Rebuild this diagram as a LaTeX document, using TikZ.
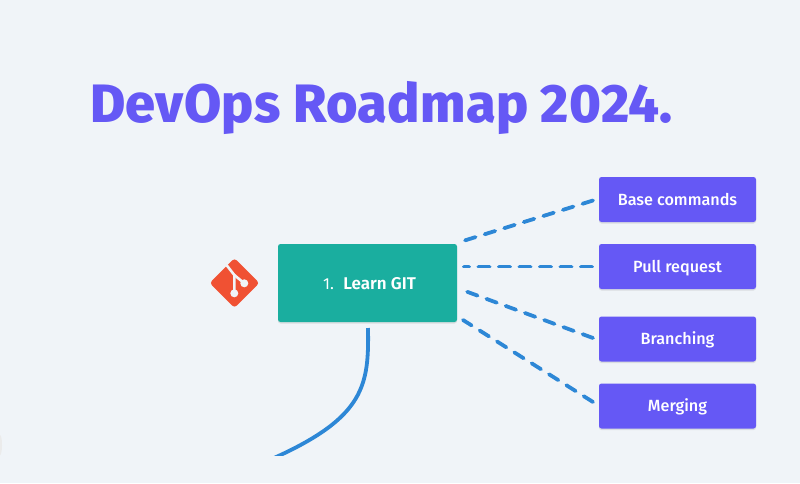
\documentclass[tikz,border=0pt]{standalone}
\usepackage{fontspec}
\setmainfont{Fira Sans}
\newfontfamily\labelfont{Fira Sans Medium}
\newfontfamily\strongfont{Fira Sans SemiBold}
\newfontfamily\titlefont[LetterSpace=0.6]{Fira Sans ExtraBold}
\usetikzlibrary{shadows,positioning}
\definecolor{bgc}{HTML}{F0F4F8}
\definecolor{violet}{HTML}{6558F5}
\definecolor{teal}{HTML}{1AAE9F}
\definecolor{linkblue}{HTML}{2D87D6}
\definecolor{gitred}{HTML}{F05133}
\tikzset{
  softshadow/.style={drop shadow={shadow xshift=0pt,shadow yshift=-1.5pt,opacity=.16,fill=black!60}},
  topicbox/.style={fill=violet,rounded corners=2.5pt,minimum width=157pt,minimum height=45pt,inner sep=0pt,text=white,text height=12pt,text depth=1pt,font=\labelfont\fontsize{16.2}{18}\selectfont,softshadow},
  mainbox/.style={fill=teal,rounded corners=2.5pt,minimum width=179pt,minimum height=78pt,inner sep=0pt,text=white,text height=13.6pt,text depth=1pt,font=\fontsize{16}{18}\selectfont,softshadow},
  dashlink/.style={draw=linkblue,line width=3.8pt,line cap=round,dash pattern=on 11pt off 9.5pt},
  solidlink/.style={draw=linkblue,line width=3.8pt},
  titletext/.style={text=violet,font=\titlefont\fontsize{54}{60}\selectfont,inner sep=0pt,anchor=base west},
}
\begin{document}
\begin{tikzpicture}[x=1pt,y=-1pt]
\fill[bgc] (0,0) rectangle (800,483);
\useasboundingbox (0,0) rectangle (800,483);
\fill[black!8] (0,445) ellipse (2 and 10);
\node[titletext] (title) at (90,122) {DevOps Roadmap 2024.};
\node[mainbox] (git) at (367.5,283) {\hspace{4pt}1.\ \ \hspace{1pt}{\strongfont\fontsize{17}{18}\selectfont Learn GIT}};
\node[topicbox] (base) at (677.5,199.5) {Base commands};
\node[topicbox] (pull) at (677.5,266.5) {Pull request};
\node[topicbox] (branch) at (677.5,339) {Branching};
\node[topicbox] (merge) at (677.5,406) {Merging};
\coordinate (gA) at (463,241);
\coordinate (gB) at (464,266.5);
\coordinate (gC) at (465,291);
\coordinate (gD) at (463,320);
\coordinate (bA) at (593,200.5);
\coordinate (bB) at (592,266.5);
\coordinate (bC) at (593,338);
\coordinate (bD) at (593,402);
\draw[dashlink] (bA) -- (gA);
\draw[dashlink] (bB) -- (gB);
\draw[dashlink] (bC) -- (gC);
\draw[dashlink] (bD) -- (gD);
\coordinate (curveStart) at (368,328);
\coordinate (curveEnd) at (274,458);
\begin{scope}
\clip (200,320) rectangle (400,455);
\draw[solidlink] (curveStart) .. controls (369,385) and (365,417) .. (curveEnd);
\end{scope}
% git logo
\begin{scope}[shift={(234.5,283)}]
\fill[gitred,rounded corners=3pt] (-24.8,0) -- (0,-24.8) -- (24.8,0) -- (0,24.8) -- cycle;
\draw[bgc,line width=2.6pt] (-8,-18) -- (-0.2,-8) -- (-0.2,10);
\draw[bgc,line width=2.6pt] (-0.2,-8) -- (9.8,0.3);
\fill[bgc] (-0.2,10.3) circle (4) (9.8,0.3) circle (4);
\end{scope}
\end{tikzpicture}
\end{document}
